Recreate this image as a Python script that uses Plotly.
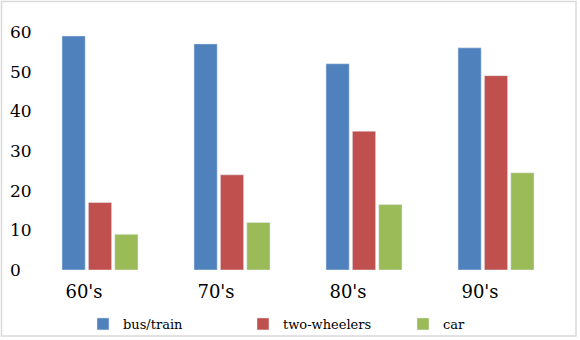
import plotly.graph_objects as go

categories = ["60's", "70's", "80's", "90's"]
bus_train = [59, 57, 52, 56]
two_wheelers = [17, 24, 35, 49]
car = [9, 12, 16.5, 24.5]
y_ticks = [0, 10, 20, 30, 40, 50, 60]

W, H = 580, 340
ML, MR, MT, MB = 34, 18, 32, 70
FONT = "DejaVu Serif"

fig = go.Figure()
fig.add_trace(go.Bar(name="bus/train", x=categories, y=bus_train, marker_color="#4F81BD"))
fig.add_trace(go.Bar(name="two-wheelers", x=categories, y=two_wheelers, marker_color="#C0504D"))
fig.add_trace(go.Bar(name="car", x=categories, y=car, marker_color="#9BBB59"))

# left-aligned y tick labels
for t in y_ticks:
    fig.add_annotation(x=(8 - ML) / (W - ML - MR), xref="paper", y=t, yref="y",
                       text=str(t), showarrow=False, xanchor="left", yanchor="middle",
                       font=dict(family=FONT, size=17, color="#000000"))

pw = W - ML - MR
ph = H - MT - MB
fig.add_shape(type="rect", xref="paper", yref="paper",
              x0=(1.5 - ML) / pw, x1=(576 - ML) / pw,
              y0=(H - MB - 336) / ph, y1=(H - MB - 1.5) / ph,
              line=dict(color="#D9D9D9", width=1.5), fillcolor="rgba(0,0,0,0)", layer="below")

fig.update_layout(
    width=W, height=H,
    margin=dict(l=ML, r=MR, t=MT, b=MB, autoexpand=False),
    paper_bgcolor="white", plot_bgcolor="white",
    barmode="group", bargap=0.4, bargroupgap=0.12,
    font=dict(family=FONT, size=17, color="#000000"),
    xaxis=dict(showline=False, showgrid=False, ticks="", ticklabelshift=-16,
               ticklabelstandoff=9, tickfont=dict(family=FONT, size=18), automargin=False),
    yaxis=dict(range=[0, 60], showgrid=False, showline=False, zeroline=False,
               showticklabels=False, tickvals=y_ticks, automargin=False),
    legend=dict(orientation="h", xref="container", x=83 / W, xanchor="left",
                yref="container", y=(H - 324) / H, yanchor="middle",
                bgcolor="rgba(0,0,0,0)",
                font=dict(family=FONT, size=13), entrywidth=115, itemwidth=30),
    showlegend=True,
)

fig.write_html("out.html")
